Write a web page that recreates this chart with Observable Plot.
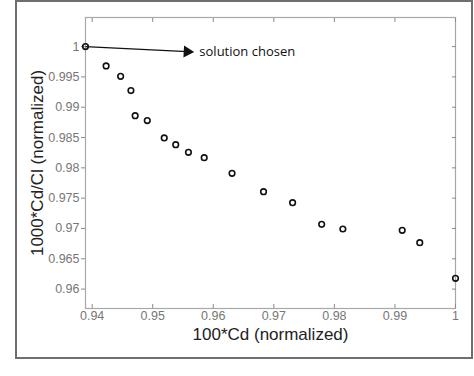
<!DOCTYPE html>
<html>
<head>
<meta charset="utf-8">
<script src="https://cdn.jsdelivr.net/npm/d3@7"></script>
<script src="https://cdn.jsdelivr.net/npm/@observablehq/plot@0.6"></script>
<style>
  html, body { margin: 0; padding: 0; background: #fff; }
  #wrap { position: relative; width: 474px; height: 376px; overflow: hidden; }
  #wrap svg { position: absolute; left: 0; top: 0; }
  #border { position: absolute; left: 15px; top: 0px; width: 454px; height: 355px; border: 2px solid #6e6e6e; box-sizing: content-box; pointer-events: none; }
</style>
</head>
<body>
<div id="wrap"><div id="border"></div></div>
<script>
// Data
const cdNorm = [0.9389, 0.9423, 0.9447, 0.9464, 0.9471, 0.9491, 0.9519, 0.9538, 0.9559, 0.9585, 0.9631, 0.9683, 0.9731, 0.9779, 0.9814, 0.9912, 0.9941, 1.0];
const ratioNorm = [1.0, 0.99682, 0.9951, 0.99274, 0.98861, 0.98779, 0.98493, 0.98383, 0.98256, 0.98168, 0.97909, 0.97607, 0.97426, 0.97068, 0.96991, 0.96969, 0.96766, 0.96177];
const xTicks = [0.94, 0.95, 0.96, 0.97, 0.98, 0.99, 1.0];
const xTickLabels = ["0.94", "0.95", "0.96", "0.97", "0.98", "0.99", "1"];
const yTicks = [0.96, 0.965, 0.97, 0.975, 0.98, 0.985, 0.99, 0.995, 1.0];
const yTickLabels = ["0.96", "0.965", "0.97", "0.975", "0.98", "0.985", "0.99", "0.995", "1"];
const xLabel = "100*Cd (normalized)";
const yLabel = "1000*Cd/Cl (normalized)";
const annotationText = ["solution chosen"];
const arrowStart = [0.9389, 1.0];
const arrowEnd = [0.9557, 0.99917];
const annotationPos = [0.9577, 0.99917];

const points = cdNorm.map((x, i) => ({x, y: ratioNorm[i]}));
const xFmt = d => xTickLabels[xTicks.findIndex(t => Math.abs(t - d) < 1e-9)] ?? "";
const yFmt = d => yTickLabels[yTicks.findIndex(t => Math.abs(t - d) < 1e-9)] ?? "";
const font = "'Liberation Sans', Arial, sans-serif";
const tickGray = "#8a8a8a";

const chart = Plot.plot({
  width: 474,
  height: 376,
  marginLeft: 85,
  marginRight: 19,
  marginTop: 17,
  marginBottom: 68,
  style: {fontFamily: font, background: "transparent", overflow: "visible"},
  x: {domain: [0.9389, 1.0]},
  y: {domain: [0.9568, 1.0048]},
  marks: [
    Plot.frame({stroke: "#a8a8a8", strokeWidth: 1.2}),
    // bottom axis: labels + inward ticks
    Plot.axisX({anchor: "bottom", ticks: xTicks, tickSize: 0, tickPadding: 3, tickFormat: xFmt, fill: "#777", fontSize: 12.5, label: null}),
    Plot.axisX({anchor: "bottom", ticks: xTicks, tickSize: 4, dy: -4, tickFormat: () => "", stroke: tickGray, label: null}),
    // top axis: inward ticks only
    Plot.axisX({anchor: "top", ticks: xTicks, tickSize: 4, dy: 4, tickFormat: () => "", stroke: tickGray, label: null}),
    // left axis: outward ticks + labels
    Plot.axisY({anchor: "left", ticks: yTicks, tickSize: 4, tickPadding: 2, tickFormat: yFmt, fill: "#777", stroke: tickGray, fontSize: 12.5, label: null}),
    // right axis: inward ticks
    Plot.axisY({anchor: "right", ticks: yTicks, tickSize: 4, dx: -4, tickFormat: () => "", stroke: tickGray, label: null}),
    // axis titles
    Plot.text([xLabel], {frameAnchor: "bottom", dy: 26, lineAnchor: "middle", textAnchor: "middle", fontSize: 17, fill: "#222", fontFamily: font}),
    Plot.text([yLabel], {frameAnchor: "left", dx: -48, rotate: -90, lineAnchor: "middle", textAnchor: "middle", fontSize: 17, fill: "#222", fontFamily: font}),
    // annotation arrow
    Plot.link([0], {x1: () => arrowStart[0], y1: () => arrowStart[1], x2: () => arrowEnd[0], y2: () => arrowEnd[1], stroke: "#111", strokeWidth: 1.3}),
    Plot.dot([0], {x: () => arrowEnd[0], y: () => arrowEnd[1], symbol: "triangle", rotate: 93, r: 4.5, fill: "#111", stroke: "none"}),
    Plot.text(annotationText, {x: () => annotationPos[0], y: () => annotationPos[1], textAnchor: "start", fontSize: 13, fill: "#111", fontFamily: "'Open Sans', sans-serif"}),
    // data
    Plot.dot(points, {x: "x", y: "y", r: 2.8, stroke: "#111", strokeWidth: 1.6, fill: "none"})
  ]
});
document.getElementById("wrap").prepend(chart);
</script>
</body>
</html>
